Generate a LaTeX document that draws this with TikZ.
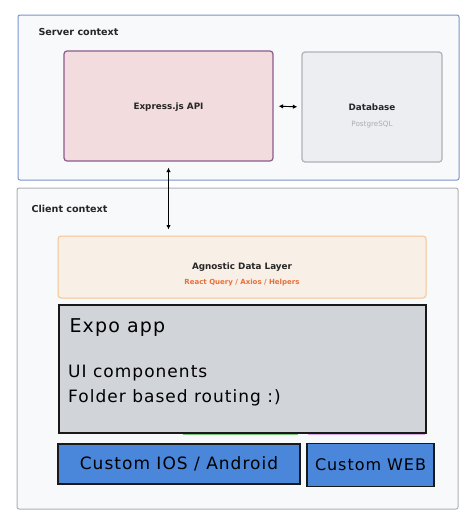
\documentclass[tikz,border=0pt]{standalone}
\usepackage{fontspec}
\setmainfont{DejaVu Sans}
\newfontfamily\hand[LetterSpace=6]{DejaVu Sans}
\usetikzlibrary{arrows.meta,calc}
\definecolor{ctxfill}{HTML}{F8F9FB}
\definecolor{srvline}{HTML}{7A95CC}
\definecolor{cliline}{HTML}{ADB0B6}
\definecolor{apifill}{HTML}{F2DCDD}
\definecolor{apiline}{HTML}{8C5A8C}
\definecolor{dbfill}{HTML}{ECEEF1}
\definecolor{dbline}{HTML}{AEB1B6}
\definecolor{pgtext}{HTML}{A9ADB3}
\definecolor{adlfill}{HTML}{F8EFE6}
\definecolor{adlline}{HTML}{F4C58F}
\definecolor{adltext}{HTML}{E8703A}
\definecolor{expofill}{HTML}{D1D4D9}
\definecolor{bluefill}{HTML}{4A86D9}
\definecolor{greenl}{HTML}{7CC47C}
\definecolor{purpl}{HTML}{D8A8E8}
\tikzset{
  ctx/.style={draw, fill=ctxfill, line width=1pt, rounded corners=2pt},
  box/.style={draw, line width=1.2pt, rounded corners=3pt},
  sketch/.style={draw=black!90, line width=1.3pt},
  lbl/.style={font=\bfseries\fontsize{8.8}{10}\selectfont, text=black!85},
  ctxlbl/.style={font=\bfseries\fontsize{9.6}{11}\selectfont, text=black!85},
  conn/.style={line width=0.9pt, {Latex[length=4.5pt,width=4.5pt]}-{Latex[length=4.5pt,width=4.5pt]}},
}
\begin{document}
\begin{tikzpicture}[x=1pt,y=-1pt]
\useasboundingbox[fill=white] (0,0) rectangle (474,517);
% server context
\draw[ctx, draw=srvline] (18,15) rectangle (459,180);
\node[ctxlbl, anchor=west] (srvlbl) at (35,32) {Server context};
\node[box, draw=apiline, fill=apifill, minimum width=209, minimum height=110] (api) at (168.5,106) {};
\node[lbl] (apilbl) at (168.5,107) {Express.js API};
\node[box, draw=dbline, fill=dbfill, minimum width=140, minimum height=110] (db) at (372,107) {};
\node[lbl] (dblbl) at (372,107) {Database};
\node[font=\fontsize{7.2}{8}\selectfont, text=pgtext] (pg) at (372,125) {PostgreSQL};
% client context
\draw[ctx, draw=cliline] (17,188) rectangle (458,509);
\node[ctxlbl, anchor=west] (clilbl) at (28,209) {Client context};
\node[box, draw=adlline, fill=adlfill, minimum width=368, minimum height=62, line width=1pt] (adl) at (242,267) {};
\node[lbl] (adllbl) at (242,267) {Agnostic Data Layer};
\node[font=\bfseries\fontsize{7}{8}\selectfont, text=adltext] (adlsub) at (242,283) {React Query / Axios / Helpers};
% expo
\draw[greenl, line width=1.3pt] (183,434) -- (298,434);
\draw[purpl, line width=1.3pt] (308,434) -- (425,434);
\node[sketch, fill=expofill, minimum width=367, minimum height=128, inner sep=0] (expo) at (242.5,369) {};
\node[anchor=west, font=\hand\fontsize{19}{20}\selectfont] (expot) at (66,328) {Expo app};
\node[anchor=north west, align=left, font=\hand\fontsize{17}{25}\selectfont, inner sep=0] (ui) at (68,365) {UI components\\Folder based routing :)};
\node[sketch, fill=bluefill, minimum width=242, minimum height=40, font=\hand\fontsize{17}{18}\selectfont] (ios) at (179,464) {Custom IOS / Android};
\node[sketch, fill=bluefill, minimum width=127, minimum height=43, font=\hand\fontsize{16}{18}\selectfont] (web) at (370.5,465) {Custom WEB};
% connectors
\draw[conn, shorten <=5pt, shorten >=4pt] (api.east) -- (db.west);
\draw[conn, shorten <=6pt, shorten >=6pt] (api.south) -- (adl.north -| api.south);
\end{tikzpicture}
\end{document}
